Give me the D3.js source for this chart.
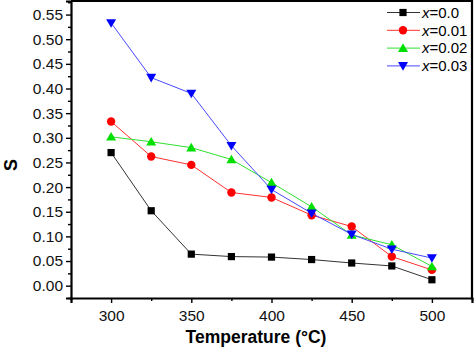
<!DOCTYPE html>
<html>
<head>
<meta charset="utf-8">
<script src="https://cdn.jsdelivr.net/npm/d3@7"></script>
<style>
  html, body { margin: 0; padding: 0; background: #fff; }
  svg { display: block; font-family: "Liberation Sans", Arial, sans-serif; }
</style>
</head>
<body>
<svg id="chart" width="474" height="349"></svg>
<script>
// Temperatures (°C) and S values for each composition x
const temperatures = [300, 325, 350, 375, 400, 425, 450, 475, 500];
const sX000 = [0.270, 0.152, 0.064, 0.059, 0.058, 0.053, 0.046, 0.040, 0.012];
const sX001 = [0.333, 0.262, 0.245, 0.189, 0.179, 0.143, 0.120, 0.059, 0.032];
const sX002 = [0.302, 0.292, 0.280, 0.256, 0.209, 0.160, 0.103, 0.083, 0.039];
const sX003 = [0.533, 0.422, 0.390, 0.284, 0.195, 0.147, 0.104, 0.074, 0.056];
const seriesLabels = ["0.0", "0.01", "0.02", "0.03"];
const xTickValues = [300, 350, 400, 450, 500];
const yTickValues = [0, 0.05, 0.10, 0.15, 0.20, 0.25, 0.30, 0.35, 0.40, 0.45, 0.50, 0.55];

const series = [
  { label: seriesLabels[0], values: sX000, color: "#000000", line: "#333333", symbol: "square" },
  { label: seriesLabels[1], values: sX001, color: "#ff0000", line: "#ff3030", symbol: "circle" },
  { label: seriesLabels[2], values: sX002, color: "#00e000", line: "#30e030", symbol: "up" },
  { label: seriesLabels[3], values: sX003, color: "#0000ff", line: "#4848ff", symbol: "down" }
];

const svg = d3.select("#chart");
const plotL = 71, plotR = 472, plotT = 1, plotB = 298;

const x = d3.scaleLinear().domain([275, 525]).range([plotL, plotR]);
const y = d3.scaleLinear().domain([-0.025, 0.5775]).range([plotB, plotT]);

// Frame (top and right sides)
svg.append("path")
  .attr("d", `M${plotL},${plotT}H${plotR}V${plotB}`)
  .attr("fill", "none").attr("stroke", "#000").attr("stroke-width", 2.2);

// Minor ticks
const minorX = d3.range(275, 526, 25).filter(v => v % 50 !== 0);
const minorY = d3.range(-0.025, 0.58, 0.05).map(v => +v.toFixed(3));

svg.append("g").attr("transform", `translate(0,${plotB})`)
  .call(d3.axisBottom(x).tickValues(xTickValues).tickFormat(d3.format("d")).tickSizeOuter(0).tickSize(5).tickPadding(7));
svg.append("g").attr("transform", `translate(0,${plotB})`)
  .call(d3.axisBottom(x).tickValues(minorX).tickFormat("").tickSizeOuter(0).tickSize(3))
  .select(".domain").remove();

svg.append("g").attr("transform", `translate(${plotL},0)`)
  .call(d3.axisLeft(y).tickValues(yTickValues).tickFormat(d3.format(".2f")).tickSizeOuter(0).tickSize(5).tickPadding(3));
svg.append("g").attr("transform", `translate(${plotL},0)`)
  .call(d3.axisLeft(y).tickValues(minorY).tickFormat("").tickSizeOuter(0).tickSize(3))
  .select(".domain").remove();

svg.selectAll(".domain").attr("stroke-width", 2.2);
svg.selectAll(".tick line").attr("stroke-width", 1.4);
svg.selectAll(".tick text").attr("font-size", 15.5).attr("fill", "#111")
  .attr("font-family", "'Liberation Sans', Arial, sans-serif");

// Axis titles
svg.append("text").attr("x", 256).attr("y", 343)
  .attr("text-anchor", "middle").attr("font-size", 17.5).attr("font-weight", "bold")
  .text("Temperature (°C)");
svg.append("text").attr("transform", "translate(17,165) rotate(-90)")
  .attr("text-anchor", "middle").attr("font-size", 18).attr("font-weight", "bold")
  .text("S");

function drawSymbol(g, kind, color) {
  if (kind === "square") {
    g.append("rect").attr("x", -3.6).attr("y", -3.6).attr("width", 7.2).attr("height", 7.2).attr("fill", color);
  } else if (kind === "circle") {
    g.append("circle").attr("r", 4.2).attr("fill", color);
  } else if (kind === "up") {
    g.append("path").attr("d", "M0,-4.8L5,3.8L-5,3.8Z").attr("fill", color);
  } else {
    g.append("path").attr("d", "M0,4.8L5,-3.8L-5,-3.8Z").attr("fill", color);
  }
}

const line = d3.line().x(d => x(d[0])).y(d => y(d[1]));

series.forEach(s => {
  const pts = temperatures.map((t, i) => [t, s.values[i]]);
  svg.append("path").datum(pts).attr("d", line)
    .attr("fill", "none").attr("stroke", s.line).attr("stroke-width", 1);
  pts.forEach(p => {
    const g = svg.append("g").attr("transform", `translate(${x(p[0])},${y(p[1])})`);
    drawSymbol(g, s.symbol, s.color);
  });
});

// Legend
const legend = svg.append("g");
series.forEach((s, i) => {
  const cy = 12.5 + i * 17.8;
  legend.append("line").attr("x1", 387).attr("x2", 420).attr("y1", cy).attr("y2", cy)
    .attr("stroke", s.line).attr("stroke-width", 1);
  const g = legend.append("g").attr("transform", `translate(403,${cy})`);
  drawSymbol(g, s.symbol, s.color);
  const t = legend.append("text").attr("x", 422).attr("y", cy + 5.3).attr("font-size", 15);
  t.append("tspan").attr("font-style", "italic").text("x");
  t.append("tspan").text("=" + s.label);
});
</script>
</body>
</html>
